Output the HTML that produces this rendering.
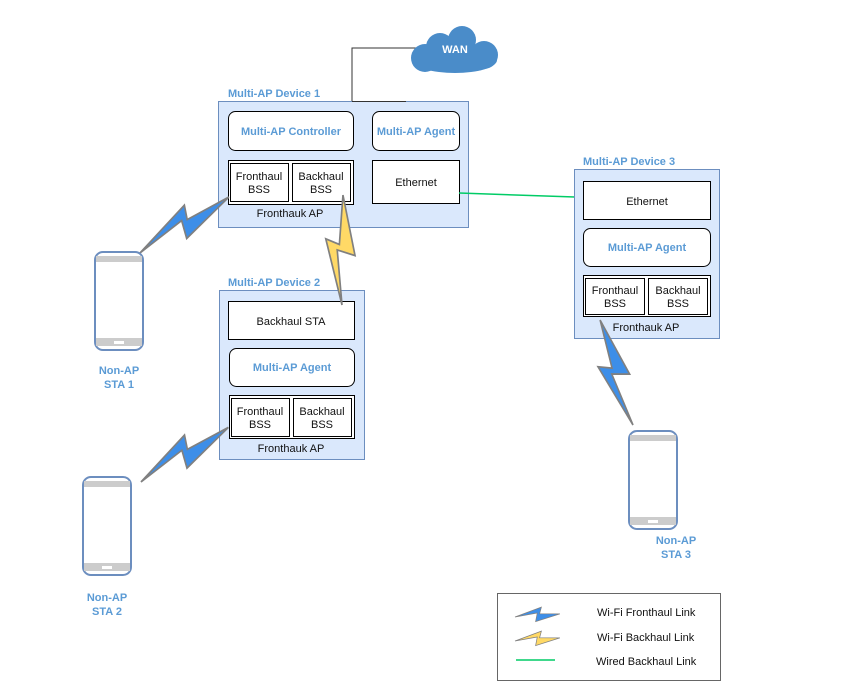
<!DOCTYPE html>
<html><head><style>body{margin:0;background:#fff}svg{display:block}text{font-family:"Liberation Sans",sans-serif;font-size:11px;fill:#111}.b{fill:#5b9bd5;font-weight:bold}</style></head><body>
<svg width="855" height="696" viewBox="0 0 855 696" xmlns="http://www.w3.org/2000/svg">
<defs>
<g id="bolt"><polygon points="0,0 60,-16 55,-3 100,0 45,12 50,-5" stroke="#808080" stroke-width="1.6" stroke-linejoin="miter"/></g>
<g id="phone"><rect x="0" y="0" width="48" height="98" rx="8" fill="#fff" stroke="#6c8ebf" stroke-width="2"/><rect x="1" y="4" width="46" height="6" fill="#ccc"/><rect x="1" y="86" width="46" height="8" fill="#ccc"/><rect x="19" y="89" width="10" height="3" fill="#fff"/></g>
</defs>
<!-- WAN -->
<polyline points="352,101 352,48 418,48" fill="none" stroke="#333" stroke-width="1"/>
<g fill="#4a8cc9"><ellipse cx="455" cy="60" rx="42" ry="13"/><circle cx="440" cy="47" r="14"/><circle cx="462" cy="40" r="14"/><circle cx="484" cy="55" r="14"/><circle cx="425" cy="58" r="14"/></g>
<text x="455" y="53" text-anchor="middle" style="fill:#fff;font-weight:bold">WAN</text>
<!-- Device 1 -->
<text x="228" y="97" class="b">Multi-AP Device 1</text>
<rect x="218.5" y="101.5" width="250" height="126" fill="#dae8fc" stroke="#6c8ebf"/>
<line x1="352" y1="101.5" x2="406" y2="101.5" stroke="#333"/>
<rect x="228.5" y="111.5" width="125" height="39" rx="7" fill="#fff" stroke="#000"/>
<text x="291" y="135" text-anchor="middle" class="b">Multi-AP Controller</text>
<rect x="372.5" y="111.5" width="87" height="39" rx="7" fill="#fff" stroke="#000"/>
<text x="416" y="135" text-anchor="middle" class="b">Multi-AP Agent</text>
<rect x="228.5" y="160.5" width="125" height="44" fill="#fff" stroke="#000"/>
<rect x="230.5" y="163.5" width="58" height="38" fill="#fff" stroke="#000"/>
<rect x="292.5" y="163.5" width="58" height="38" fill="#fff" stroke="#000"/>
<text x="259" y="180" text-anchor="middle">Fronthaul</text><text x="259" y="193" text-anchor="middle">BSS</text>
<text x="321" y="180" text-anchor="middle">Backhaul</text><text x="321" y="193" text-anchor="middle">BSS</text>
<text x="290" y="217" text-anchor="middle">Fronthauk AP</text>
<rect x="372.5" y="160.5" width="87" height="43" fill="#fff" stroke="#000"/>
<text x="416" y="186" text-anchor="middle">Ethernet</text>
<line x1="459" y1="193" x2="575" y2="197" stroke="#00cc66" stroke-width="1.5"/>
<!-- Device 2 -->
<text x="228" y="286" class="b">Multi-AP Device 2</text>
<rect x="219.5" y="290.5" width="145" height="169" fill="#dae8fc" stroke="#6c8ebf"/>
<rect x="228.5" y="301.5" width="126" height="38" fill="#fff" stroke="#000"/>
<text x="291" y="325" text-anchor="middle">Backhaul STA</text>
<rect x="229.5" y="348.5" width="125" height="38" rx="7" fill="#fff" stroke="#000"/>
<text x="292" y="371" text-anchor="middle" class="b">Multi-AP Agent</text>
<rect x="229.5" y="395.5" width="125" height="43" fill="#fff" stroke="#000"/>
<rect x="231.5" y="398.5" width="58" height="38" fill="#fff" stroke="#000"/>
<rect x="293.5" y="398.5" width="58" height="38" fill="#fff" stroke="#000"/>
<text x="260" y="415" text-anchor="middle">Fronthaul</text><text x="260" y="428" text-anchor="middle">BSS</text>
<text x="322" y="415" text-anchor="middle">Backhaul</text><text x="322" y="428" text-anchor="middle">BSS</text>
<text x="291" y="452" text-anchor="middle">Fronthauk AP</text>
<!-- Device 3 -->
<text x="583" y="165" class="b">Multi-AP Device 3</text>
<rect x="574.5" y="169.5" width="145" height="169" fill="#dae8fc" stroke="#6c8ebf"/>
<rect x="583.5" y="181.5" width="127" height="38" fill="#fff" stroke="#000"/>
<text x="647" y="205" text-anchor="middle">Ethernet</text>
<rect x="583.5" y="228.5" width="127" height="38" rx="7" fill="#fff" stroke="#000"/>
<text x="647" y="251" text-anchor="middle" class="b">Multi-AP Agent</text>
<rect x="583.5" y="275.5" width="127" height="41" fill="#fff" stroke="#000"/>
<rect x="585.5" y="278.5" width="59" height="36" fill="#fff" stroke="#000"/>
<rect x="648.5" y="278.5" width="59" height="36" fill="#fff" stroke="#000"/>
<text x="615" y="294" text-anchor="middle">Fronthaul</text><text x="615" y="307" text-anchor="middle">BSS</text>
<text x="678" y="294" text-anchor="middle">Backhaul</text><text x="678" y="307" text-anchor="middle">BSS</text>
<text x="646" y="331" text-anchor="middle">Fronthauk AP</text>
<!-- bolts -->
<use href="#bolt" fill="#3d8ee8" transform="translate(140,253) rotate(-32.2) scale(1.05,1.05)"/>
<use href="#bolt" fill="#ffd966" transform="translate(342,305) rotate(-89.5) scale(1.1,1.05)"/>
<use href="#bolt" fill="#3d8ee8" transform="translate(141,482) rotate(-32) scale(1.03,1.05)"/>
<use href="#bolt" fill="#3d8ee8" transform="translate(633,425) rotate(-107.4) scale(1.1,1.0)"/>
<!-- phones -->
<use href="#phone" transform="translate(95,252)"/>
<use href="#phone" transform="translate(83,477)"/>
<use href="#phone" transform="translate(629,431)"/>
<text x="119" y="374" text-anchor="middle" class="b">Non-AP</text><text x="119" y="388" text-anchor="middle" class="b">STA 1</text>
<text x="107" y="601" text-anchor="middle" class="b">Non-AP</text><text x="107" y="615" text-anchor="middle" class="b">STA 2</text>
<text x="676" y="544" text-anchor="middle" class="b">Non-AP</text><text x="676" y="558" text-anchor="middle" class="b">STA 3</text>
<!-- legend -->
<rect x="497.5" y="593.5" width="223" height="87" fill="#fff" stroke="#666"/>
<use href="#bolt" fill="#3d8ee8" transform="translate(515,617) rotate(-4) scale(0.45,0.5)"/>
<use href="#bolt" fill="#ffd966" transform="translate(515,641) rotate(-4) scale(0.45,0.5)"/>
<line x1="516" y1="660" x2="555" y2="660" stroke="#00cc66" stroke-width="1.5"/>
<text x="597" y="616">Wi-Fi Fronthaul Link</text>
<text x="597" y="641">Wi-Fi Backhaul Link</text>
<text x="596" y="665">Wired Backhaul Link</text>
</svg>
</body></html>
